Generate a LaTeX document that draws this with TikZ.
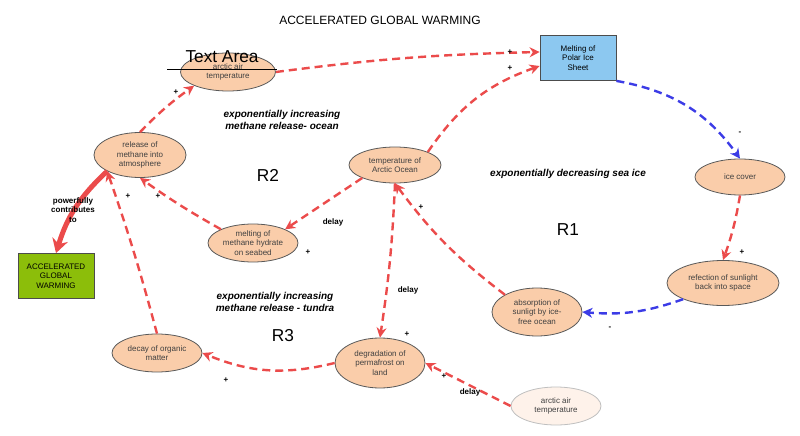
\documentclass[tikz,border=0pt]{standalone}
\usepackage{fontspec}
\setmainfont{Liberation Sans}
\usetikzlibrary{arrows.meta}
\definecolor{loopred}{RGB}{235,75,75}
\definecolor{loopblue}{RGB}{60,60,230}
\definecolor{varfill}{RGB}{250,205,170}
\definecolor{icefill}{RGB}{140,200,240}
\definecolor{warmfill}{RGB}{140,190,10}
\tikzset{
    var/.style={ellipse, draw=black!65, fill=varfill, thick, align=center, font=\footnotesize, text=black!75, inner sep=0pt}, % 变量椭圆
    pos link/.style={loopred, line width=2.4pt, dash pattern=on 8pt off 5pt, -{Stealth[length=10pt,width=10pt]}},
    neg link/.style={loopblue, line width=2.4pt, dash pattern=on 8pt off 5pt, -{Stealth[length=10pt,width=10pt]}},
    sign/.style={font=\footnotesize\bfseries, inner sep=1pt},
    phrase/.style={font=\normalsize\bfseries\itshape, align=center}
}
\usetikzlibrary{shapes.geometric}
\begin{document}
\begin{tikzpicture}[x=1pt, y=-1pt]
    \useasboundingbox (0,0) rectangle (800,436);

    \node[font=\large] (title) at (380,20) {ACCELERATED GLOBAL WARMING};

    \node[var, minimum width=95pt, minimum height=38pt] (airtop) at (228,72) {arctic air\\temperature};
    \node[draw=black!70, thick, fill=icefill, align=center, font=\footnotesize, minimum width=76pt, minimum height=45pt] (melt) at (578,58) {Melting of\\Polar Ice\\Sheet};
    \node[var, minimum width=92pt, minimum height=45pt] (release) at (140,155) {release of\\methane into\\atmosphere};
    \node[var, minimum width=92pt, minimum height=36pt] (ocean) at (395,165) {temperature of\\Arctic Ocean};
    \node[var, minimum width=90pt, minimum height=36pt] (ice) at (740,177) {ice cover};
    \node[var, minimum width=90pt, minimum height=38pt] (hydrate) at (253,243) {melting of\\methane hydrate\\on seabed};
    \node[draw=black!70, thick, fill=warmfill, align=center, font=\footnotesize, minimum width=76pt, minimum height=45pt] (agw) at (56,276) {ACCELERATED\\GLOBAL\\WARMING};
    \node[var, minimum width=112pt, minimum height=45pt] (reflect) at (723,283) {refection of sunlight\\back into space};
    \node[var, minimum width=90pt, minimum height=48pt] (absorb) at (537,312) {absorption of\\sunligt by ice-\\free ocean};
    \node[var, minimum width=90pt, minimum height=38pt] (decay) at (157,353) {decay of organic\\matter};
    \node[var, minimum width=90pt, minimum height=50pt] (permafrost) at (380,363) {degradation of\\permafrost on\\land};
    \node[var, draw=black!25, fill=varfill!25, minimum width=90pt, minimum height=38pt] (airbottom) at (556,406) {arctic air\\temperature};

    % Text Area overlay
    \node[font=\LARGE] (textarea) at (222,57) {Text Area};
    \draw (167,69) -- (277,69);

    \node[font=\LARGE] (rtwo) at (268,175) {R2};
    \node[font=\LARGE] (rone) at (568,230) {R1};
    \node[font=\LARGE] (rthree) at (283,336) {R3};
    \node[phrase] (ocean text) at (282,120) {exponentially increasing\\methane release- ocean};
    \node[phrase] (ice text) at (568,174) {exponentially decreasing sea ice};
    \node[phrase] (tundra text) at (275,302) {exponentially increasing\\methane release - tundra};

    % links
    \draw[pos link] (airtop.east) to[bend left=3] (melt.west |- 0,52);
    \draw[pos link] (ocean.north east) to[bend left=18] (melt.west |- 0,66);
    \draw[neg link] (melt.south east) to[bend left=22] (ice.north);
    \draw[pos link] (ice.south) to[bend left=5] (reflect.north);
    \draw[neg link] (reflect.south west) to[bend left=12] (absorb.east);
    \draw[pos link] (absorb.north west) to[bend left=8] (ocean.south);
    \draw[pos link] (ocean.south west) -- (hydrate.north east);
    \draw[pos link] (ocean.south) to[bend left=3] (permafrost.north);
    \draw[pos link] (hydrate.north west) to[bend left=3] (release.south);
    \draw[pos link] (decay.north) to[bend right=2] (release.south west);
    \draw[pos link] (release.north) to[bend left=5] (airtop.south west);
    \draw[pos link] (permafrost.west) to[bend left=18] (decay.east);
    \draw[pos link] (airbottom.west) -- (permafrost.east);
    \draw[loopred, line width=5pt, -{Stealth[length=14pt,width=16pt]}] (release.south west) to[bend right=15] (agw.north);

    % signs and delays
    \node[sign] at (510,52) {+};
    \node[sign] at (510,68) {+};
    \node[sign] at (740,133) {-};
    \node[sign] at (742,252) {+};
    \node[sign] at (610,328) {-};
    \node[sign] at (421,207) {+};
    \node[sign] at (308,252) {+};
    \node[sign] at (407,334) {+};
    \node[sign] at (158,196) {+};
    \node[sign] at (128,196) {+};
    \node[sign] at (176,92) {+};
    \node[sign] at (226,380) {+};
    \node[sign] at (444,376) {+};
    \node[sign] at (333,222) {delay};
    \node[sign] at (408,290) {delay};
    \node[sign] at (470,392) {delay};
    \node[sign, align=center] at (73,210) {powerfully\\contributes\\to};
\end{tikzpicture}
\end{document}
